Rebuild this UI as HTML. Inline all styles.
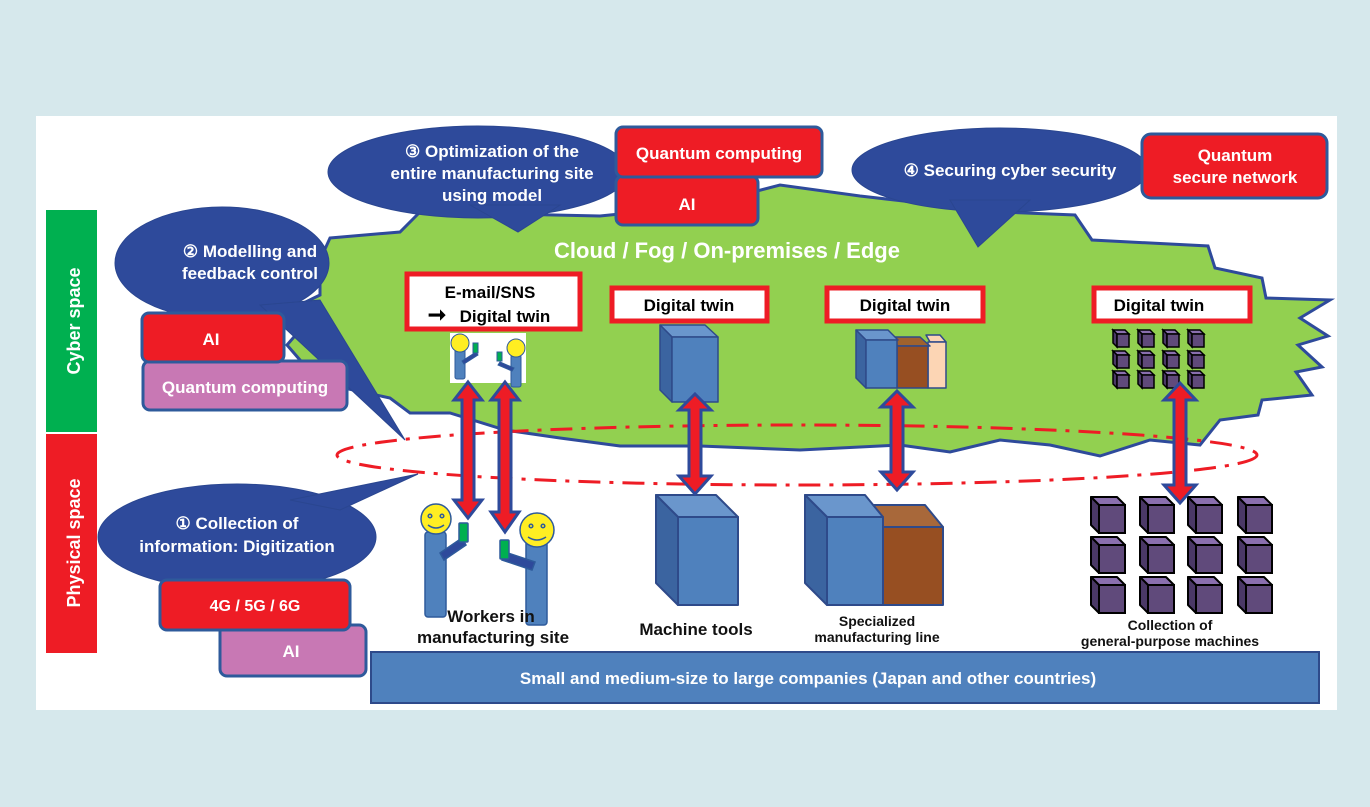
<!DOCTYPE html>
<html><head><meta charset="utf-8"><style>
html,body{margin:0;padding:0;background:#d6e8ec;}
svg{display:block;font-family:"Liberation Sans",Arial,sans-serif;font-weight:bold;}
</style></head><body>
<svg width="1370" height="807" viewBox="0 0 1370 807" xmlns="http://www.w3.org/2000/svg">
<defs>
<g id="pc">
<polygon points="0,0 26,0 34,8 8,8" fill="#8a6fae" stroke="#000" stroke-width="2" stroke-linejoin="round"/>
<polygon points="0,0 8,8 8,36 0,28" fill="#4a3866" stroke="#000" stroke-width="2" stroke-linejoin="round"/>
<rect x="8" y="8" width="26" height="28" fill="#604a7b" stroke="#000" stroke-width="2"/>
</g>
<g id="spc">
<polygon points="0,0 12,0 16,4 4,4" fill="#8a6fae" stroke="#000" stroke-width="1.5"/>
<polygon points="0,0 4,4 4,17 0,13" fill="#4a3866" stroke="#000" stroke-width="1.5"/>
<rect x="4" y="4" width="12" height="13" fill="#604a7b" stroke="#000" stroke-width="1.5"/>
</g>
</defs>
<rect x="36" y="116" width="1301" height="594" fill="#fff"/>

<rect x="46" y="210" width="51" height="222" fill="#00b050"/>
<rect x="46" y="434" width="51" height="219" fill="#ee1c25"/>
<text transform="translate(80,321) rotate(-90)" text-anchor="middle" fill="#fff" font-size="18">Cyber space</text>
<text transform="translate(80,543) rotate(-90)" text-anchor="middle" fill="#fff" font-size="18">Physical space</text>

<polygon points="330,238 400,232 420,212 600,216 700,206 780,185 860,196 1000,212 1075,215 1092,240 1208,246 1215,268 1262,278 1266,298 1330,300 1300,318 1328,336 1298,345 1322,367 1296,372 1312,395 1262,400 1258,415 1220,420 1200,445 1150,440 1100,456 1050,445 1000,440 950,452 900,445 800,450 700,446 620,446 560,438 505,430 450,413 410,413 390,398 330,385 300,360 287,345 300,330 285,312 320,295 320,260"
 fill="#92d050" stroke="#2e4a9b" stroke-width="3" stroke-linejoin="miter"/>

<g fill="#2e4a9b" stroke="#2a4690" stroke-width="1">
<ellipse cx="478" cy="172" rx="150" ry="46"/>
<polygon points="470,205 560,205 518,232"/>
<ellipse cx="1000" cy="170" rx="148" ry="42"/>
<polygon points="950,200 1030,200 978,247"/>
<ellipse cx="222" cy="263" rx="107" ry="56"/>
<polygon points="260,305 320,300 405,440"/>
<ellipse cx="237" cy="537" rx="139" ry="53"/>
<polygon points="290,500 340,510 418,474"/>
</g>
<g fill="#fff" font-size="17" text-anchor="middle">
<text x="492" y="157">③ Optimization of the</text>
<text x="492" y="179">entire manufacturing site</text>
<text x="492" y="201">using model</text>
<text x="1010" y="176">④ Securing cyber security</text>
<text x="250" y="257">② Modelling and</text>
<text x="250" y="279">feedback control</text>
<text x="237" y="529">① Collection of</text>
<text x="237" y="552">information: Digitization</text>
</g>

<g stroke="#2e5a9b" stroke-width="3">
<rect x="616" y="176" width="142" height="49" rx="7" fill="#ee1c25"/>
<rect x="616" y="127" width="206" height="50" rx="7" fill="#ee1c25"/>
<rect x="1142" y="134" width="185" height="64" rx="9" fill="#ee1c25"/>
<rect x="143" y="361" width="204" height="49" rx="7" fill="#c878b4"/>
<rect x="142" y="313" width="142" height="49" rx="7" fill="#ee1c25"/>
<rect x="220" y="625" width="146" height="51" rx="7" fill="#c878b4"/>
<rect x="160" y="580" width="190" height="50" rx="7" fill="#ee1c25"/>
</g>
<g fill="#fff" font-size="17" text-anchor="middle">
<text x="719" y="159">Quantum computing</text>
<text x="687" y="210">AI</text>
<text x="1235" y="161">Quantum</text>
<text x="1235" y="183">secure network</text>
<text x="245" y="393">Quantum computing</text>
<text x="211" y="345">AI</text>
<text x="291" y="657">AI</text>
<text x="255" y="611" font-size="16">4G / 5G / 6G</text>
</g>

<text x="727" y="258" fill="#fff" font-size="22" text-anchor="middle">Cloud / Fog / On-premises / Edge</text>

<ellipse cx="797" cy="455" rx="460" ry="30" fill="none" stroke="#ee1c25" stroke-width="3" stroke-dasharray="22,9,4,9"/>

<g fill="#fff" stroke="#ee1c25" stroke-width="5">
<rect x="407" y="274" width="173" height="55"/>
<rect x="612" y="288" width="155" height="33"/>
<rect x="827" y="288" width="156" height="33"/>
<rect x="1094" y="288" width="156" height="33"/>
</g>
<g fill="#000" font-size="17" text-anchor="middle">
<text x="490" y="298">E-mail/SNS</text>
<text x="437" y="322" font-size="22" text-anchor="middle">➞</text>
<text x="505" y="322">Digital twin</text>
<text x="689" y="311">Digital twin</text>
<text x="905" y="311">Digital twin</text>
<text x="1159" y="311">Digital twin</text>
</g>

<rect x="450" y="333" width="76" height="50" fill="#fff"/>
<g stroke="#2e5a9b" stroke-width="1">
<rect x="455" y="347" width="10" height="32" rx="2" fill="#4f81bd"/>
<rect x="511" y="355" width="10" height="32" rx="2" fill="#4f81bd"/>
<polygon points="462,361 476,352 478,355 464,364" fill="#2e4a9b"/>
<polygon points="500,362 514,368 512,371 498,365" fill="#2e4a9b"/>
<rect x="473" y="343" width="5" height="10" fill="#00b050"/>
<rect x="497" y="352" width="5" height="9" fill="#00b050"/>
<circle cx="460" cy="343" r="9" fill="#ffee22"/>
<circle cx="516" cy="348" r="9" fill="#ffee22"/>
</g>

<g stroke="#2e4a8a" stroke-width="1.5" stroke-linejoin="round">
<polygon points="660,325 705,325 718,337 672,337" fill="#6a96cc"/>
<polygon points="660,325 672,337 672,402 660,390" fill="#3b64a0"/>
<rect x="672" y="337" width="46" height="65" fill="#4f81bd"/>
<polygon points="926,335 940,335 946,342 930,342" fill="#fcd5b4"/>
<rect x="928" y="342" width="18" height="46" fill="#fcd5b4"/>
<polygon points="890,337 920,337 930,346 898,346" fill="#a0622d"/>
<rect x="897" y="346" width="31" height="42" fill="#974f22"/>
<polygon points="856,330 888,330 898,340 866,340" fill="#6a96cc"/>
<polygon points="856,330 866,340 866,388 856,378" fill="#3b64a0"/>
<rect x="866" y="340" width="31" height="48" fill="#4f81bd"/>
</g>
<g>
<use href="#spc" x="1113" y="330"/><use href="#spc" x="1138" y="330"/><use href="#spc" x="1163" y="330"/><use href="#spc" x="1188" y="330"/>
<use href="#spc" x="1113" y="351"/><use href="#spc" x="1138" y="351"/><use href="#spc" x="1163" y="351"/><use href="#spc" x="1188" y="351"/>
<use href="#spc" x="1113" y="371"/><use href="#spc" x="1138" y="371"/><use href="#spc" x="1163" y="371"/><use href="#spc" x="1188" y="371"/>
</g>

<g stroke="#2e4a8a" stroke-width="2" stroke-linejoin="round">
<polygon points="656,495 716,495 738,517 678,517" fill="#6a96cc"/>
<polygon points="656,495 678,517 678,605 656,583" fill="#3b64a0"/>
<rect x="678" y="517" width="60" height="88" fill="#4f81bd"/>
<polygon points="872,505 925,505 943,527 883,527" fill="#a8683a"/>
<rect x="883" y="527" width="60" height="78" fill="#974f22"/>
<polygon points="805,495 865,495 883,517 827,517" fill="#6a96cc"/>
<polygon points="805,495 827,517 827,605 805,583" fill="#3b64a0"/>
<rect x="827" y="517" width="56" height="88" fill="#4f81bd"/>
</g>
<g>
<use href="#pc" x="1091" y="497"/><use href="#pc" x="1140" y="497"/><use href="#pc" x="1188" y="497"/><use href="#pc" x="1238" y="497"/>
<use href="#pc" x="1091" y="537"/><use href="#pc" x="1140" y="537"/><use href="#pc" x="1188" y="537"/><use href="#pc" x="1238" y="537"/>
<use href="#pc" x="1091" y="577"/><use href="#pc" x="1140" y="577"/><use href="#pc" x="1188" y="577"/><use href="#pc" x="1238" y="577"/>
</g>

<g stroke="#2e5a9b" stroke-width="1.5">
<rect x="425" y="532" width="21" height="85" rx="3" fill="#4f81bd"/>
<rect x="526" y="540" width="21" height="85" rx="3" fill="#4f81bd"/>
<polygon points="440,553 462,538 466,545 444,560" fill="#2e4a9b"/>
<polygon points="505,552 535,562 532,570 502,560" fill="#2e4a9b"/>
<rect x="459" y="523" width="9" height="19" rx="1" fill="#00b050"/>
<rect x="500" y="540" width="9" height="19" rx="1" fill="#00b050"/>
<circle cx="436" cy="519" r="15" fill="#ffee22"/>
<circle cx="537" cy="530" r="17" fill="#ffee22"/>
</g>
<g fill="none" stroke="#2e5a9b" stroke-width="1.5">
<circle cx="430" cy="516" r="1.8"/><circle cx="442" cy="516" r="1.8"/>
<path d="M428,525 Q436,531 444,525"/>
<circle cx="531" cy="526" r="1.8"/><circle cx="543" cy="526" r="1.8"/>
<path d="M528,537 Q537,543 546,537"/>
</g>

<g fill="#ee1c25" stroke="#2e4a9b" stroke-width="3" stroke-linejoin="miter">
<polygon points="468,382 482,400 474,400 474,500 482,500 468,518 454,500 462,500 462,400 454,400"/>
<polygon points="505,382 519,400 511,400 511,512 519,512 505,532 491,512 499,512 499,400 491,400"/>
<polygon points="695,394 711,410 701,410 701,476 711,476 695,494 679,476 689,476 689,410 679,410"/>
<polygon points="897,391 913,407 903,407 903,472 913,472 897,490 881,472 891,472 891,407 881,407"/>
<polygon points="1180,383 1196,400 1186,400 1186,485 1196,485 1180,503 1164,485 1174,485 1174,400 1164,400"/>
</g>

<g fill="#111" font-size="17" text-anchor="middle">
<text x="491" y="622">Workers in</text>
<text x="493" y="643">manufacturing site</text>
<text x="696" y="635">Machine tools</text>
<text x="877" y="626" font-size="14">Specialized</text>
<text x="877" y="642" font-size="14">manufacturing line</text>
<text x="1170" y="630" font-size="14">Collection of</text>
<text x="1170" y="646" font-size="14">general-purpose machines</text>
</g>

<rect x="371" y="652" width="948" height="51" fill="#4f81bd" stroke="#2e4a8a" stroke-width="2"/>
<text x="808" y="684" fill="#fff" font-size="17" text-anchor="middle">Small and medium-size to large companies (Japan and other countries)</text>
</svg>
</body></html>
